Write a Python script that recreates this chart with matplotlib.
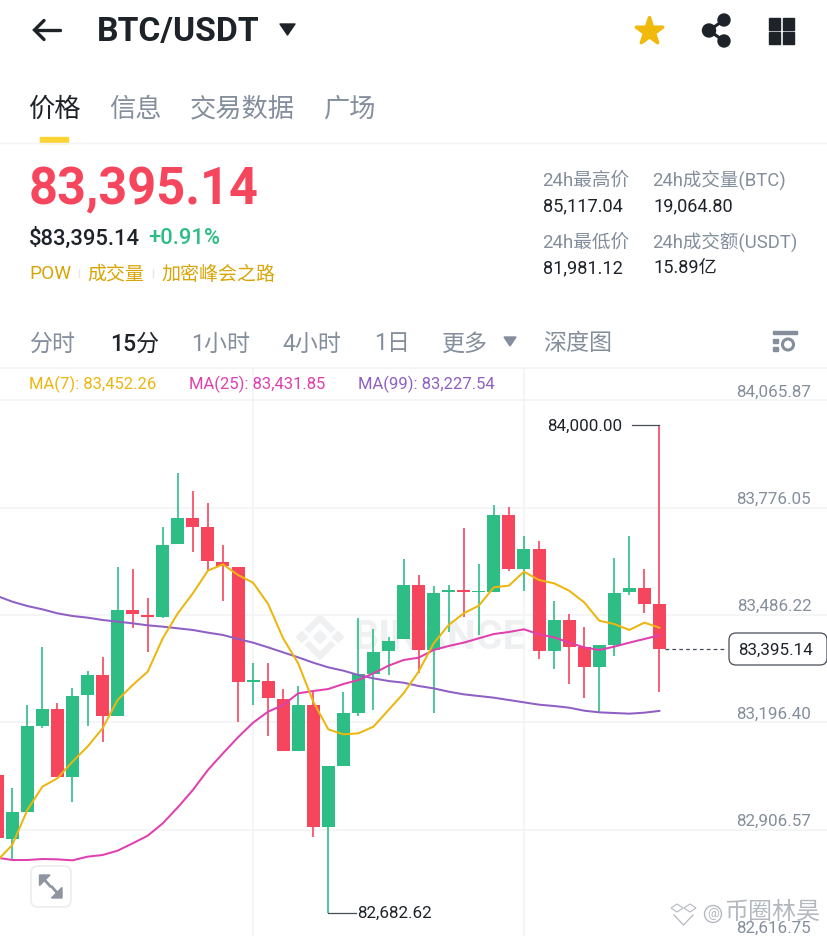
import matplotlib
matplotlib.use("Agg")
import numpy as np
import matplotlib.pyplot as plt
from matplotlib.patches import FancyBboxPatch, Polygon, Circle, Rectangle

plt.rcParams["font.family"] = ["Roboto", "Noto Sans CJK SC", "DejaVu Sans"]

W, H = 828, 936
GREEN = "#2ebd85"
RED = "#f6465d"
DARK = "#1e2329"
GREY = "#848e9c"
GOLD = "#d9a406"
GRID = "#f2f3f5"
MA7_C = "#edb60f"
MA25_C = "#e03fae"
MA99_C = "#8f5fc4"

# candles, left to right (15 minute bars)
opens = [83054.5, 82882.5, 82955.4, 83186.8, 83233.6, 83050.0, 83269.6, 83325.4, 83213.8, 83500.0,
         83486.6, 83482.1, 83677.4, 83748.5, 83724.2, 83630.6, 83616.2, 83305.6, 83307.4, 83260.6,
         83120.2, 83242.6, 82914.0, 83079.7, 83222.8, 83327.2, 83390.2, 83420.8, 83568.5, 83393.0,
         83547.8, 83554.1, 83548.7, 83549.6, 83757.5, 83609.9, 83664.8, 83388.4, 83472.2, 83400.1,
         83346.2, 83406.5, 83547.8, 83560.4, 83515.4]
closes = [82883.4, 82953.6, 83186.8, 83233.6, 83050.0, 83267.8, 83325.4, 83213.8, 83500.0, 83488.4,
          83482.1, 83676.5, 83748.5, 83724.2, 83631.5, 83618.9, 83306.5, 83310.1, 83261.5, 83120.2,
          83242.6, 82914.0, 83079.7, 83221.0, 83327.2, 83387.5, 83417.2, 83568.5, 83393.0, 83546.9,
          83555.0, 83548.7, 83552.3, 83757.5, 83609.9, 83664.8, 83388.4, 83472.2, 83400.1, 83346.2,
          83405.6, 83546.9, 83560.4, 83516.3, 83395.14]
highs = [83054.5, 83018.4, 83243.5, 83399.2, 83248.0, 83290.3, 83336.2, 83374.0, 83615.3, 83609.9,
         83532.5, 83725.1, 83871.0, 83822.3, 83788.1, 83676.5, 83616.2, 83357.8, 83357.8, 83285.8,
         83294.8, 83279.5, 83079.7, 83279.5, 83477.6, 83447.9, 83426.2, 83636.9, 83594.6, 83564.9,
         83567.6, 83720.6, 83623.4, 83783.6, 83777.3, 83699.9, 83687.3, 83524.4, 83488.4, 83453.3,
         83405.6, 83639.6, 83699.9, 83609.9, 84000.0]
lows = [82883.4, 82824.9, 82955.4, 83182.3, 83050.0, 82982.5, 83186.8, 83144.5, 83213.8, 83452.4,
        83385.8, 83479.4, 83677.4, 83657.6, 83608.1, 83523.5, 83198.5, 83242.6, 83160.7, 83120.2,
        83120.2, 82888.0, 82682.62, 83079.7, 83213.8, 83230.0, 83324.5, 83420.8, 83329.0, 83222.8,
        83439.8, 83482.1, 83432.6, 83549.6, 83604.5, 83551.4, 83366.8, 83341.6, 83301.1, 83261.5,
        83225.5, 83375.8, 83540.6, 83492.9, 83279.5]

ma7 = [82823.1, 82865.4, 82959.9, 83023.0, 83045.5, 83090.5, 83131.0, 83180.5, 83257.0, 83297.5,
       83333.6, 83423.6, 83491.1, 83545.1, 83606.3, 83623.4, 83594.6, 83573.9, 83516.3, 83423.6,
       83356.0, 83252.5, 83177.8, 83164.3, 83167.0, 83185.0, 83230.0, 83275.0, 83333.6, 83410.1,
       83459.6, 83491.1, 83511.8, 83561.3, 83565.8, 83603.6, 83581.1, 83572.1, 83552.3, 83520.8,
       83471.3, 83462.3, 83446.1, 83465.9, 83452.26]
ma25 = [82831.2, 82824.9, 82824.9, 82827.6, 82826.7, 82824.0, 82833.9, 82838.4, 82850.1, 82869.9,
        82890.6, 82923.9, 82967.2, 83014.0, 83068.0, 83113.0, 83156.2, 83195.8, 83225.5, 83243.5,
        83275.0, 83281.3, 83286.7, 83300.2, 83311.0, 83329.0, 83349.7, 83365.0, 83371.3, 83392.0,
        83402.9, 83411.9, 83423.6, 83435.2, 83440.7, 83447.9, 83434.4, 83426.3, 83411.9, 83399.2,
        83392.0, 83401.1, 83411.9, 83421.8, 83431.85]
ma99 = [83537.9, 83522.6, 83510.9, 83501.9, 83491.1, 83483.9, 83479.4, 83473.1, 83468.6, 83464.1,
        83458.7, 83455.1, 83450.6, 83446.1, 83438.9, 83432.6, 83421.8, 83411.9, 83399.2, 83385.7,
        83372.2, 83357.8, 83345.2, 83336.2, 83324.5, 83315.5, 83308.3, 83303.8, 83294.8, 83288.5,
        83279.5, 83272.3, 83267.8, 83263.3, 83257.0, 83250.7, 83244.4, 83240.8, 83236.3, 83228.2,
        83223.7, 83221.9, 83220.1, 83222.8, 83227.54]

price_ticks = [84065.87, 83776.05, 83486.22, 83196.40, 82906.57, 82616.75]
time_grid = [17, 35]  # candles that sit on the vertical gridlines
last_price = 83395.14
top_high = 84000.00
bottom_low = 82682.62

intervals = ["分时", "15分", "1小时", "4小时", "1日", "更多", "深度图"]
tabs = ["价格", "信息", "交易数据", "广场"]


def px(size):
    # font size given in pixels
    return size * 0.72


fig = plt.figure(figsize=(W / 100, H / 100), dpi=100, facecolor="white")

# chart area runs from y=368 to the bottom edge
ax = fig.add_axes([0, 0, 1, (H - 368) / H])
ax.patch.set_visible(False)
ax.set_xlim(0.186, 0.186 + W / 15.05)
ax.set_ylim(82619.7, 84153.6)
ax.set_xticks([])
ax.set_yticks([])
for s in ax.spines.values():
    s.set_visible(False)

for p in price_ticks[:-1]:
    ax.axhline(p, color=GRID, lw=1.2, zorder=1)
for t in time_grid:
    ax.axvline(t, color=GRID, lw=1.2, zorder=1)

xs = np.arange(len(opens))
o, c, h, l = map(np.array, (opens, closes, highs, lows))
cols = [GREEN if b >= a else RED for a, b in zip(o, c)]
ax.vlines(xs, l, h, colors=cols, lw=1.2, zorder=3)
ax.bar(xs, np.abs(c - o), bottom=np.minimum(o, c), width=13 / 15.05, color=cols, zorder=3)

ax.plot(xs, ma99, color=MA99_C, lw=1.45, zorder=4)
ax.plot(xs, ma25, color=MA25_C, lw=1.45, zorder=5)
ax.plot(xs, ma7, color=MA7_C, lw=1.45, zorder=6)

# price scale labels sit just above their gridlines
for p in price_ticks:
    ax.annotate(f"{p:,.2f}", xy=(1, p), xycoords=("axes fraction", "data"), xytext=(-12, 6),
                textcoords="offset points", ha="right", va="center", fontsize=px(17), color=GREY, zorder=7)

# high / low callouts
hi_i = int(np.argmax(h))
lo_i = int(np.argmin(l))
ax.plot([hi_i - 1.8, hi_i], [top_high, top_high], color="#474d57", lw=0.9, zorder=7)
ax.annotate(f"{top_high:,.2f}", xy=(hi_i - 1.8, top_high), xytext=(-7, -0.7), textcoords="offset points",
            ha="right", va="center", fontsize=px(17), color=DARK, zorder=7)
ax.plot([lo_i, lo_i + 1.85], [bottom_low, bottom_low], color="#474d57", lw=0.9, zorder=7)
ax.annotate(f"{bottom_low:,.2f}", xy=(lo_i + 1.85, bottom_low), xytext=(0.5, -0.7), textcoords="offset points",
            ha="left", va="center", fontsize=px(17), color=DARK, zorder=7)

# last price marker, the box and its text are added with the chrome
ax.plot([len(opens) - 0.6, 48.3], [last_price, last_price], color="#474d57", lw=0.9, ls=(0, (3, 2.5)), zorder=7)

# everything else is the app chrome, laid out in screen pixels
ui = fig.add_axes([0, 0, 1, 1], zorder=-1)
ui.set_xlim(0, W)
ui.set_ylim(H, 0)
ui.axis("off")
top = fig.add_axes([0, 0, 1, 1], zorder=10)
top.set_xlim(0, W)
top.set_ylim(H, 0)
top.axis("off")


def label(x, y, s, size, color=DARK, weight="normal", ha="left", target=ui):
    target.text(x, y, s, fontsize=px(size), color=color, fontweight=weight, ha=ha, va="center")


# header
ui.plot([60, 35], [30, 30], color=DARK, lw=2.4, solid_capstyle="round")
ui.plot([44, 34.5, 44], [20.5, 30, 39.5], color=DARK, lw=2.4, solid_capstyle="round", solid_joinstyle="miter")
label(97, 32, "BTC/USDT", 33.8, weight="bold")
ui.add_patch(Polygon([[280, 24], [295, 24], [287.5, 35]], closed=True, color=DARK, joinstyle="round"))
ui.scatter([649.5], [30.5], marker="*", s=400, color="#f0b90b", edgecolors="#f0b90b", linewidths=2.5, joinstyle="round")
ui.plot([724, 709, 724], [20, 30.5, 41], color=DARK, lw=2.2)
for cx, cy, r in [(709, 30.5, 6.5), (724, 20, 6), (724, 41, 6)]:
    ui.add_patch(Circle((cx, cy), r, color=DARK))
for gx in (769, 783):
    for gy in (18, 32):
        ui.add_patch(Rectangle((gx, gy), 11.5, 11.5, color=DARK))

# tabs
tab_x = [28, 109, 190, 324]
for i, (x, t) in enumerate(zip(tab_x, tabs)):
    label(x, 109.5, t, 26.3, color=DARK if i == 0 else GREY, weight="medium")
ui.add_patch(Rectangle((40, 137), 28, 5.5, color="#fcd535"))
ui.plot([0, W], [142.5, 142.5], color=GRID, lw=1)

# quote block
label(29, 190, "83,395.14", 50.5, color=RED, weight="bold")
label(29, 238.5, "$83,395.14", 22, weight="medium")
label(148, 238.5, "+0.91%", 22, color=GREEN, weight="medium")
label(29, 274, "POW", 19, color=GOLD)
label(87.5, 274.5, "成交量", 19, color=GOLD)
label(161.5, 274.5, "加密峰会之路", 19, color=GOLD)
ui.plot([79, 79], [269, 277], color="#e6e8ea", lw=1)
ui.plot([153, 153], [269, 277], color="#e6e8ea", lw=1)

label(542, 181, "24h最高价", 18.7, color=GREY)
label(652, 181, "24h成交量(BTC)", 18.5, color=GREY)
label(543, 206, "85,117.04", 18.2)
label(653, 206, "19,064.80", 18.2)
label(542, 243, "24h最低价", 18.7, color=GREY)
label(652, 243, "24h成交额(USDT)", 18.5, color=GREY)
label(543, 268, "81,981.12", 18.2)
label(653, 268, "15.89亿", 18.2)

# interval row
int_x = [29, 110, 191, 282, 374, 442, 543]
for x, t in zip(int_x, intervals):
    if t == "15分":
        label(x, 344, t, 23, weight="medium")
    else:
        label(x, 344, t, 23, color=GREY)
ui.add_patch(Polygon([[504, 337], [516, 337], [510, 346]], closed=True, color=GREY))
ui.add_patch(Rectangle((773, 331), 24, 3, color=GREY))
ui.add_patch(Rectangle((773, 339), 5, 3.5, color=GREY))
ui.add_patch(Rectangle((773, 347), 5, 3.5, color=GREY))
ui.add_patch(Circle((788, 344.5), 5.5, fc="white", ec=GREY, lw=2.2))

ui.plot([0, W], [368, 368], color=GRID, lw=1.2)
label(29, 384, f"MA(7): {ma7[-1]:,.2f}", 16.6, color=MA7_C, target=top)
label(189, 384, f"MA(25): {ma25[-1]:,.2f}", 16.6, color=MA25_C, target=top)
label(358, 384, f"MA(99): {ma99[-1]:,.2f}", 16.6, color=MA99_C, target=top)

# exchange watermark, faint, under the candles
wm = "#eff0f2"
for dx, r in [(0, 6.5), (-18, 5.5), (18, 5.5)]:
    ui.add_patch(Polygon([[320 + dx, 637 - r], [320 + dx + r, 637], [320 + dx, 637 + r],
                          [320 + dx - r, 637]], closed=True, color=wm))
for sgn in (-1, 1):
    ui.plot([309, 320, 331], [637 + sgn * 8, 637 + sgn * 19, 637 + sgn * 8], color=wm, lw=4.5,
            solid_joinstyle="miter")
label(352, 638, "BINANCE", 41, color=wm, weight="bold")

# last price box
top.add_patch(FancyBboxPatch((733, 637), 90, 24, boxstyle="round,pad=4,rounding_size=7", fc="white",
                             ec="#474d57", lw=0.9))
label(776, 650, f"{last_price:,.2f}", 17, ha="center", target=top)

# expand button
top.add_patch(FancyBboxPatch((34, 869), 34, 35, boxstyle="round,pad=3,rounding_size=7", fc="white",
                             ec="#eceef0", lw=1.3))
top.add_patch(Polygon([[39.5, 875], [50, 875], [39.5, 885.5]], closed=True, color="#8e95a0"))
top.plot([43, 50], [878, 886], color="#8e95a0", lw=2)
top.add_patch(Polygon([[62, 898], [51.5, 898], [62, 887.5]], closed=True, color="#8e95a0"))
top.plot([52, 59], [887, 895], color="#8e95a0", lw=2)

# repost watermark bottom right
wx = "#b4b9c0"
for cx, cy in [(677, 908), (690, 908)]:
    top.add_patch(Polygon([[cx, cy - 4], [cx + 6, cy], [cx, cy + 4], [cx - 6, cy]], closed=True, fc="none", ec=wx, lw=0.8))
top.plot([674, 683.5, 693], [915, 925, 915], color=wx, lw=0.9)
top.add_patch(Circle((713, 914), 8.5, fc="none", ec=wx, lw=1))
top.text(713, 914, "@", fontsize=px(13), color=wx, ha="center", va="center")
top.text(724, 912, "币圈林昊", fontsize=px(24), color=wx, ha="left", va="center")

fig.savefig("out.png", dpi=100)
